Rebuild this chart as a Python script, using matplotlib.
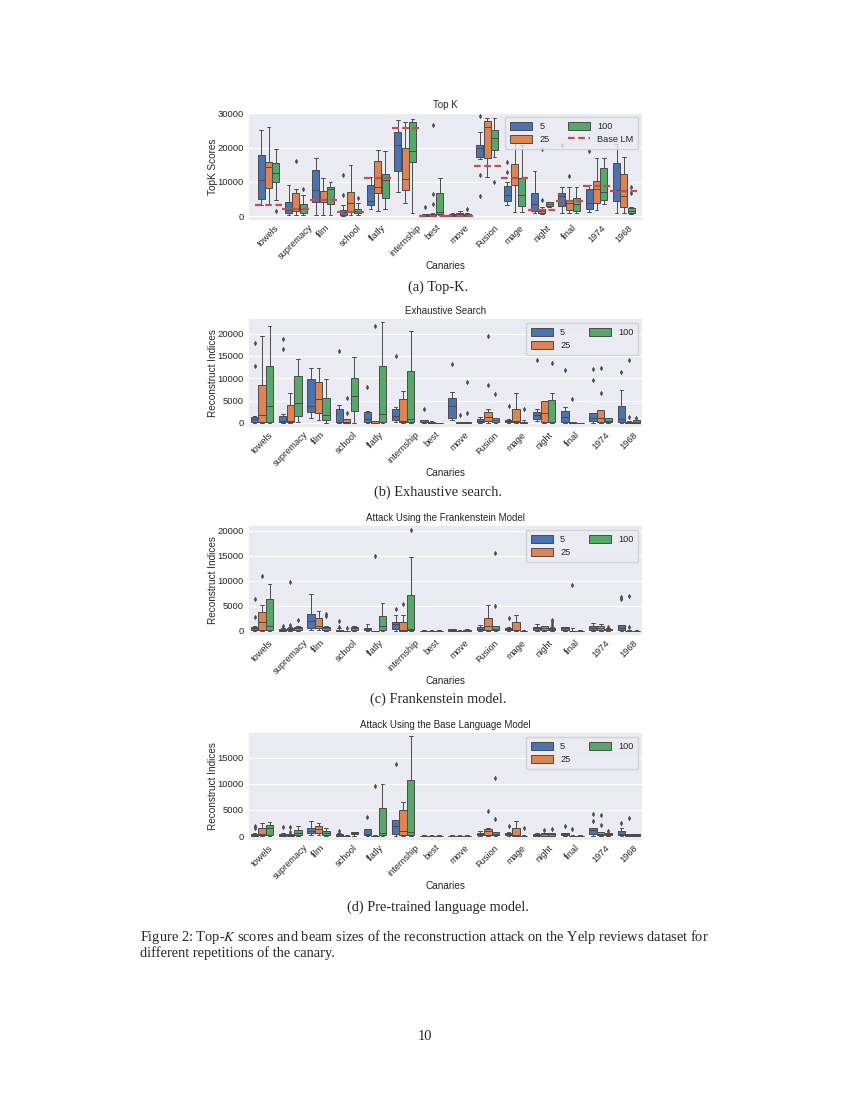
import numpy as np
import matplotlib
matplotlib.use("Agg")
import matplotlib.pyplot as plt
from matplotlib.patches import Patch
from matplotlib.lines import Line2D
import seaborn as sns

canaries = ["towels", "supremacy", "film", "school", "flatly", "internship", "best",
            "move", "Fusion", "mage", "night", "final", "1974", "1968"]
reps = ["5", "25", "100"]

# each box: (whisker low, q1, median, q3, whisker high), one per canary
# (a) Top K
topk_5 = [(3200, 4850, 10500, 17900, 25200), (300, 800, 1750, 4200, 9000),
          (300, 4200, 7600, 13400, 17000), (0, 300, 1250, 1750, 3200),
          (1950, 3200, 4450, 9000, 11500), (6900, 13200, 20800, 24700, 28100),
          (0, 100, 300, 500, 700), (0, 0, 200, 500, 900),
          (16800, 17300, 19900, 20900, 24500), (3200, 4400, 6100, 8800, 10000),
          (800, 1450, 3400, 6800, 13100), (800, 2900, 6000, 6800, 8500),
          (1250, 1950, 3700, 8000, 9000), (800, 4450, 7500, 15600, 21000)]
topk_25 = [(3200, 8300, 14200, 15800, 26000), (300, 1450, 2000, 6600, 8000),
           (300, 4000, 5000, 7300, 11000), (300, 1250, 3900, 6900, 14800),
           (1450, 6600, 8500, 16000, 19400), (3700, 7600, 10800, 20000, 27600),
           (0, 100, 300, 600, 900), (0, 100, 500, 1000, 1600),
           (11400, 17000, 26000, 27900, 28700), (1250, 9000, 11400, 15100, 22800),
           (500, 800, 1450, 2200, 2700), (800, 1750, 3700, 4650, 8500),
           (1750, 3700, 8000, 10200, 17000), (800, 2700, 5900, 12400, 17300)]
topk_100 = [(4650, 10000, 12700, 15600, 19700), (300, 800, 2000, 3400, 6100),
            (300, 3500, 8000, 8600, 9800), (300, 800, 1450, 2200, 3700),
            (1950, 5200, 10500, 12400, 19000), (800, 15800, 19000, 27400, 28400),
            (300, 500, 1250, 6600, 11200), (0, 0, 200, 600, 1000),
            (17300, 19400, 22900, 25200, 28700), (1070, 2900, 6100, 11000, 20900),
            (2700, 3000, 3500, 4000, 4200), (800, 1450, 3400, 5150, 8500),
            (3500, 4650, 7100, 13900, 16900), (500, 800, 1450, 2400, 2700)]
topk_5_out = [[], [], [], [12100, 6100], [], [], [2700], [], [29100, 11900, 5900],
              [15700, 12800], [], [20900], [19000], []]
topk_25_out = [[], [16000], [], [], [], [], [26700, 6300, 3500], [], [], [],
               [19500, 4800], [11700], [], []]
topk_100_out = [[1450], [7850], [], [5300], [], [], [], [2200], [9800], [], [], [], [],
                [8500, 6600]]
base_lm = [3200, 2200, 4650, 1250, 11200, 25700, 100, 0, 14700, 11200, 1650, 4450, 8900, 7300]

# (b) Exhaustive search
ex_5 = [(0, 150, 900, 1400, 1500), (0, 150, 450, 1570, 2000), (1200, 2400, 3900, 9850, 12400),
        (0, 150, 300, 3050, 4000), (0, 300, 900, 2400, 2700), (300, 670, 1640, 3100, 3500),
        (0, 150, 300, 600, 700), (670, 1050, 3900, 5700, 7000), (100, 300, 520, 900, 1400),
        (0, 150, 450, 600, 900), (450, 900, 1800, 2400, 3100), (0, 150, 1400, 2700, 3650),
        (0, 370, 1100, 2200, 2200), (0, 150, 820, 3800, 7400)]
ex_25 = [(0, 150, 1800, 8400, 19500), (0, 150, 450, 4000, 6800), (670, 2150, 5400, 9250, 12400),
         (0, 0, 300, 820, 1000), (0, 0, 100, 450, 450), (0, 150, 450, 5400, 7200),
         (0, 0, 100, 300, 500), (0, 0, 100, 300, 300), (0, 450, 1400, 2500, 3100),
         (0, 150, 450, 3100, 6800), (0, 150, 2150, 4900, 4900), (0, 0, 50, 150, 200),
         (0, 150, 1200, 2850, 2850), (0, 0, 100, 300, 400)]
ex_100 = [(0, 150, 3800, 12800, 21600), (300, 1640, 4550, 10600, 14300),
          (75, 670, 1800, 5500, 9850), (75, 2700, 6100, 10000, 14700),
          (0, 150, 1940, 12800, 22500), (0, 150, 900, 11700, 20700),
          (0, 0, 0, 50, 100), (0, 0, 100, 300, 300), (0, 150, 670, 1200, 1200),
          (0, 0, 100, 300, 600), (0, 150, 300, 5100, 6700), (0, 0, 0, 50, 100),
          (0, 150, 400, 1200, 1200), (0, 100, 300, 600, 700)]
ex_5_out = [[18000, 12800], [18800, 16600], [], [16100], [8000], [15000], [3050], [13100], [],
            [3800], [14200], [11800], [12000, 9600], [11500]]
ex_25_out = [[], [], [], [5700, 2150], [21600], [], [], [1800], [19500, 8600], [], [],
             [5400], [12400, 6800], [14200, 1300]]
ex_100_out = [[], [], [], [], [], [], [], [9250, 2300], [6500], [3100], [13400], [], [],
              [1050]]

# (c) Frankenstein model
fr_5 = [(0, 130, 540, 870, 1000), (0, 0, 100, 300, 600), (200, 670, 2000, 3350, 7400),
        (0, 0, 50, 150, 500), (0, 130, 470, 670, 1350), (0, 340, 1350, 1820, 3160),
        (0, 0, 20, 50, 100), (0, 0, 100, 300, 300), (0, 200, 470, 800, 1200),
        (0, 130, 300, 500, 700), (0, 200, 500, 800, 1350), (0, 130, 670, 800, 800),
        (0, 200, 670, 1000, 1550), (0, 130, 500, 1150, 1150)]
fr_25 = [(0, 200, 1800, 3840, 5250), (0, 130, 350, 670, 800), (130, 670, 1000, 2550, 3900),
         (0, 0, 0, 30, 50), (0, 0, 0, 30, 50), (0, 0, 200, 1820, 3160),
         (0, 0, 20, 50, 100), (0, 0, 20, 50, 100), (0, 200, 1000, 2550, 5250),
         (0, 130, 200, 1800, 3200), (0, 130, 670, 940, 940), (0, 0, 20, 50, 670),
         (0, 130, 540, 940, 1350), (0, 0, 20, 50, 100)]
fr_100 = [(0, 200, 1000, 6400, 9300), (0, 130, 540, 800, 1000), (0, 130, 670, 870, 1000),
          (0, 130, 540, 800, 940), (0, 130, 1000, 3030, 5600), (0, 130, 340, 7200, 14800),
          (0, 0, 20, 50, 100), (0, 0, 100, 200, 300), (0, 130, 470, 1000, 1000),
          (0, 0, 20, 50, 100), (0, 130, 340, 670, 800), (0, 0, 20, 50, 100),
          (0, 130, 300, 470, 600), (0, 0, 20, 50, 100)]
fr_5_out = [[6400, 2800], [1000], [], [1950, 870], [], [4375], [], [], [], [2500], [], [],
            [], [6850, 6400]]
fr_25_out = [[11000], [9750, 1200], [], [670], [15000], [5380], [], [], [], [], [], [9100],
             [], [7050, 800]]
fr_100_out = [[], [2150], [3350, 3000], [], [], [20200], [], [], [15500, 5000], [],
              [2150, 1700, 1200], [], [800], []]

# (d) pre-trained base language model
bl_5 = [(0, 60, 190, 440, 600), (0, 60, 190, 440, 600), (200, 630, 950, 1580, 2850),
        (0, 60, 190, 440, 600), (0, 130, 440, 1270, 1270), (0, 300, 1900, 3160, 3160),
        (0, 0, 20, 50, 100), (0, 0, 20, 50, 100), (0, 190, 300, 630, 950),
        (0, 190, 440, 630, 800), (0, 60, 190, 440, 630), (0, 190, 440, 630, 630),
        (0, 440, 1080, 1460, 1460), (0, 130, 440, 950, 1580)]
bl_25 = [(0, 130, 440, 1580, 2530), (0, 60, 190, 440, 440), (200, 500, 1270, 1900, 2530),
         (0, 0, 20, 50, 100), (0, 0, 20, 50, 100), (0, 190, 950, 5060, 6580),
         (0, 0, 20, 50, 100), (0, 0, 20, 50, 100), (0, 190, 950, 1270, 1580),
         (0, 60, 190, 1580, 2850), (0, 60, 300, 570, 570), (0, 0, 20, 50, 100),
         (0, 190, 440, 820, 820), (0, 60, 190, 440, 440)]
bl_100 = [(0, 190, 1580, 2090, 2720), (0, 190, 630, 1140, 1900), (0, 190, 630, 950, 1580),
          (0, 300, 570, 820, 820), (0, 190, 630, 5440, 10000), (0, 190, 820, 10760, 19100),
          (0, 0, 20, 50, 100), (0, 0, 20, 50, 100), (0, 130, 440, 820, 820),
          (0, 0, 20, 50, 100), (0, 60, 300, 570, 570), (0, 0, 20, 50, 100),
          (0, 130, 300, 570, 570), (0, 60, 190, 300, 300)]
bl_5_out = [[1900, 1580], [1710], [], [950], [3670], [13900], [], [], [], [1900], [], [1900],
            [4240, 2970], [2400]]
bl_25_out = [[], [1710, 820], [], [], [9500], [], [], [], [4750], [], [1200], [1270],
             [4100, 2200], [3480]]
bl_100_out = [[], [], [], [], [], [], [], [], [11100, 3350], [1580], [1330], [], [950], []]

sns.set_theme(style="darkgrid")
plt.rcParams["font.family"] = ["Liberation Sans", "DejaVu Sans"]
plt.rcParams["mathtext.fontset"] = "stix"

colors = ["#4C72B0", "#DD8452", "#55A868"]
red = "#C44E52"
gray = "#4b4b4b"
lw = 0.7

fig = plt.figure(figsize=(8.5, 11), dpi=100)
fig.patch.set_facecolor("white")


def draw_panel(top, bottom, label_y, series, outliers, title, ylabel, ylim, xlim,
               base=None):
    ax = fig.add_axes([248 / 850, 1 - bottom / 1100, 395 / 850, (bottom - top) / 1100])
    x = np.arange(len(canaries))
    w = 0.8 / 3
    for k in range(3):
        stats = [dict(whislo=b[0], q1=b[1], med=b[2], q3=b[3], whishi=b[4], fliers=o)
                 for b, o in zip(series[k], outliers[k])]
        ax.bxp(stats, positions=x + (k - 1) * w, widths=w * 0.98, patch_artist=True,
               manage_ticks=False,
               boxprops=dict(facecolor=colors[k], edgecolor=gray, linewidth=lw),
               medianprops=dict(color=gray, linewidth=lw),
               whiskerprops=dict(color=gray, linewidth=lw),
               capprops=dict(color=gray, linewidth=lw),
               flierprops=dict(marker="d", markersize=2.4, markerfacecolor=gray,
                               markeredgecolor=gray, markeredgewidth=0.3))
    handles = [Patch(facecolor=colors[k], edgecolor=gray, linewidth=lw, label=reps[k])
               for k in range(3)]
    if base is not None:
        ax.hlines(base, x - 0.5, x + 0.5, colors=red, linestyles=(0, (3, 1.6)),
                  linewidth=1.6, zorder=5)
        handles.append(Line2D([], [], color=red, linestyle=(0, (3, 1.6)), linewidth=1.6,
                              label="Base LM"))
    ax.set_xlim(*xlim)
    ax.set_ylim(*ylim)
    ax.xaxis.grid(False)
    ax.yaxis.grid(True, color="white", linewidth=0.8)
    ax.set_xticks(x)
    ax.set_xticklabels(canaries, rotation=45, fontsize=6.7)
    ax.tick_params(axis="both", length=0)
    ax.tick_params(axis="y", labelsize=6.8, pad=3)
    ax.tick_params(axis="x", pad=1.5)
    ax.set_title(title, fontsize=7, pad=3)
    ax.set_ylabel(ylabel, fontsize=7.2, va="center")
    ax.yaxis.set_label_coords((213 - 248) / 395, 0.5)
    ax.set_xlabel("Canaries", fontsize=7.2, va="center")
    ax.xaxis.set_label_coords(0.5, (bottom - label_y) / (bottom - top))
    ax.legend(handles=handles, ncol=2, loc="upper right", fontsize=6.6, handlelength=2.4,
              handleheight=1.0, borderpad=0.55, labelspacing=0.4, columnspacing=2.0)
    return ax


draw_panel(112, 221, 266, [topk_5, topk_25, topk_100],
           [topk_5_out, topk_25_out, topk_100_out], "Top K", "TopK Scores",
           (-1450, 30400), (-0.75, 13.7), base=base_lm)
draw_panel(318, 428, 473, [ex_5, ex_25, ex_100], [ex_5_out, ex_25_out, ex_100_out],
           "Exhaustive Search", "Reconstruct Indices", (-1120, 23500), (-0.5, 13.5))
draw_panel(525, 636, 681, [fr_5, fr_25, fr_100], [fr_5_out, fr_25_out, fr_100_out],
           "Attack Using the Frankenstein Model", "Reconstruct Indices",
           (-1010, 21200), (-0.5, 13.5))
draw_panel(732, 841, 886, [bl_5, bl_25, bl_100], [bl_5_out, bl_25_out, bl_100_out],
           "Attack Using the Base Language Model", "Reconstruct Indices",
           (-955, 19940), (-0.5, 13.5))

serif = dict(family=["Liberation Serif", "DejaVu Serif"], fontsize=10.4)
cap_x = 438 / 850
for y, txt in [(287, "(a) Top-K."), (492, "(b) Exhaustive search."),
               (699, "(c) Frankenstein model."), (907, "(d) Pre-trained language model.")]:
    fig.text(cap_x, 1 - y / 1100, txt, ha="center", va="center", **serif)

fig.text(140 / 850, 1 - 937 / 1100,
         "Figure 2: Top-$K$ scores and beam sizes of the reconstruction attack on the "
         "Yelp reviews dataset for", ha="left", va="center", **serif)
fig.text(140 / 850, 1 - 953 / 1100, "different repetitions of the canary.",
         ha="left", va="center", **serif)
fig.text(425 / 850, 1 - 1037 / 1100, "10", ha="center", va="center", **serif)

fig.savefig("out.png", dpi=100, facecolor="white")
